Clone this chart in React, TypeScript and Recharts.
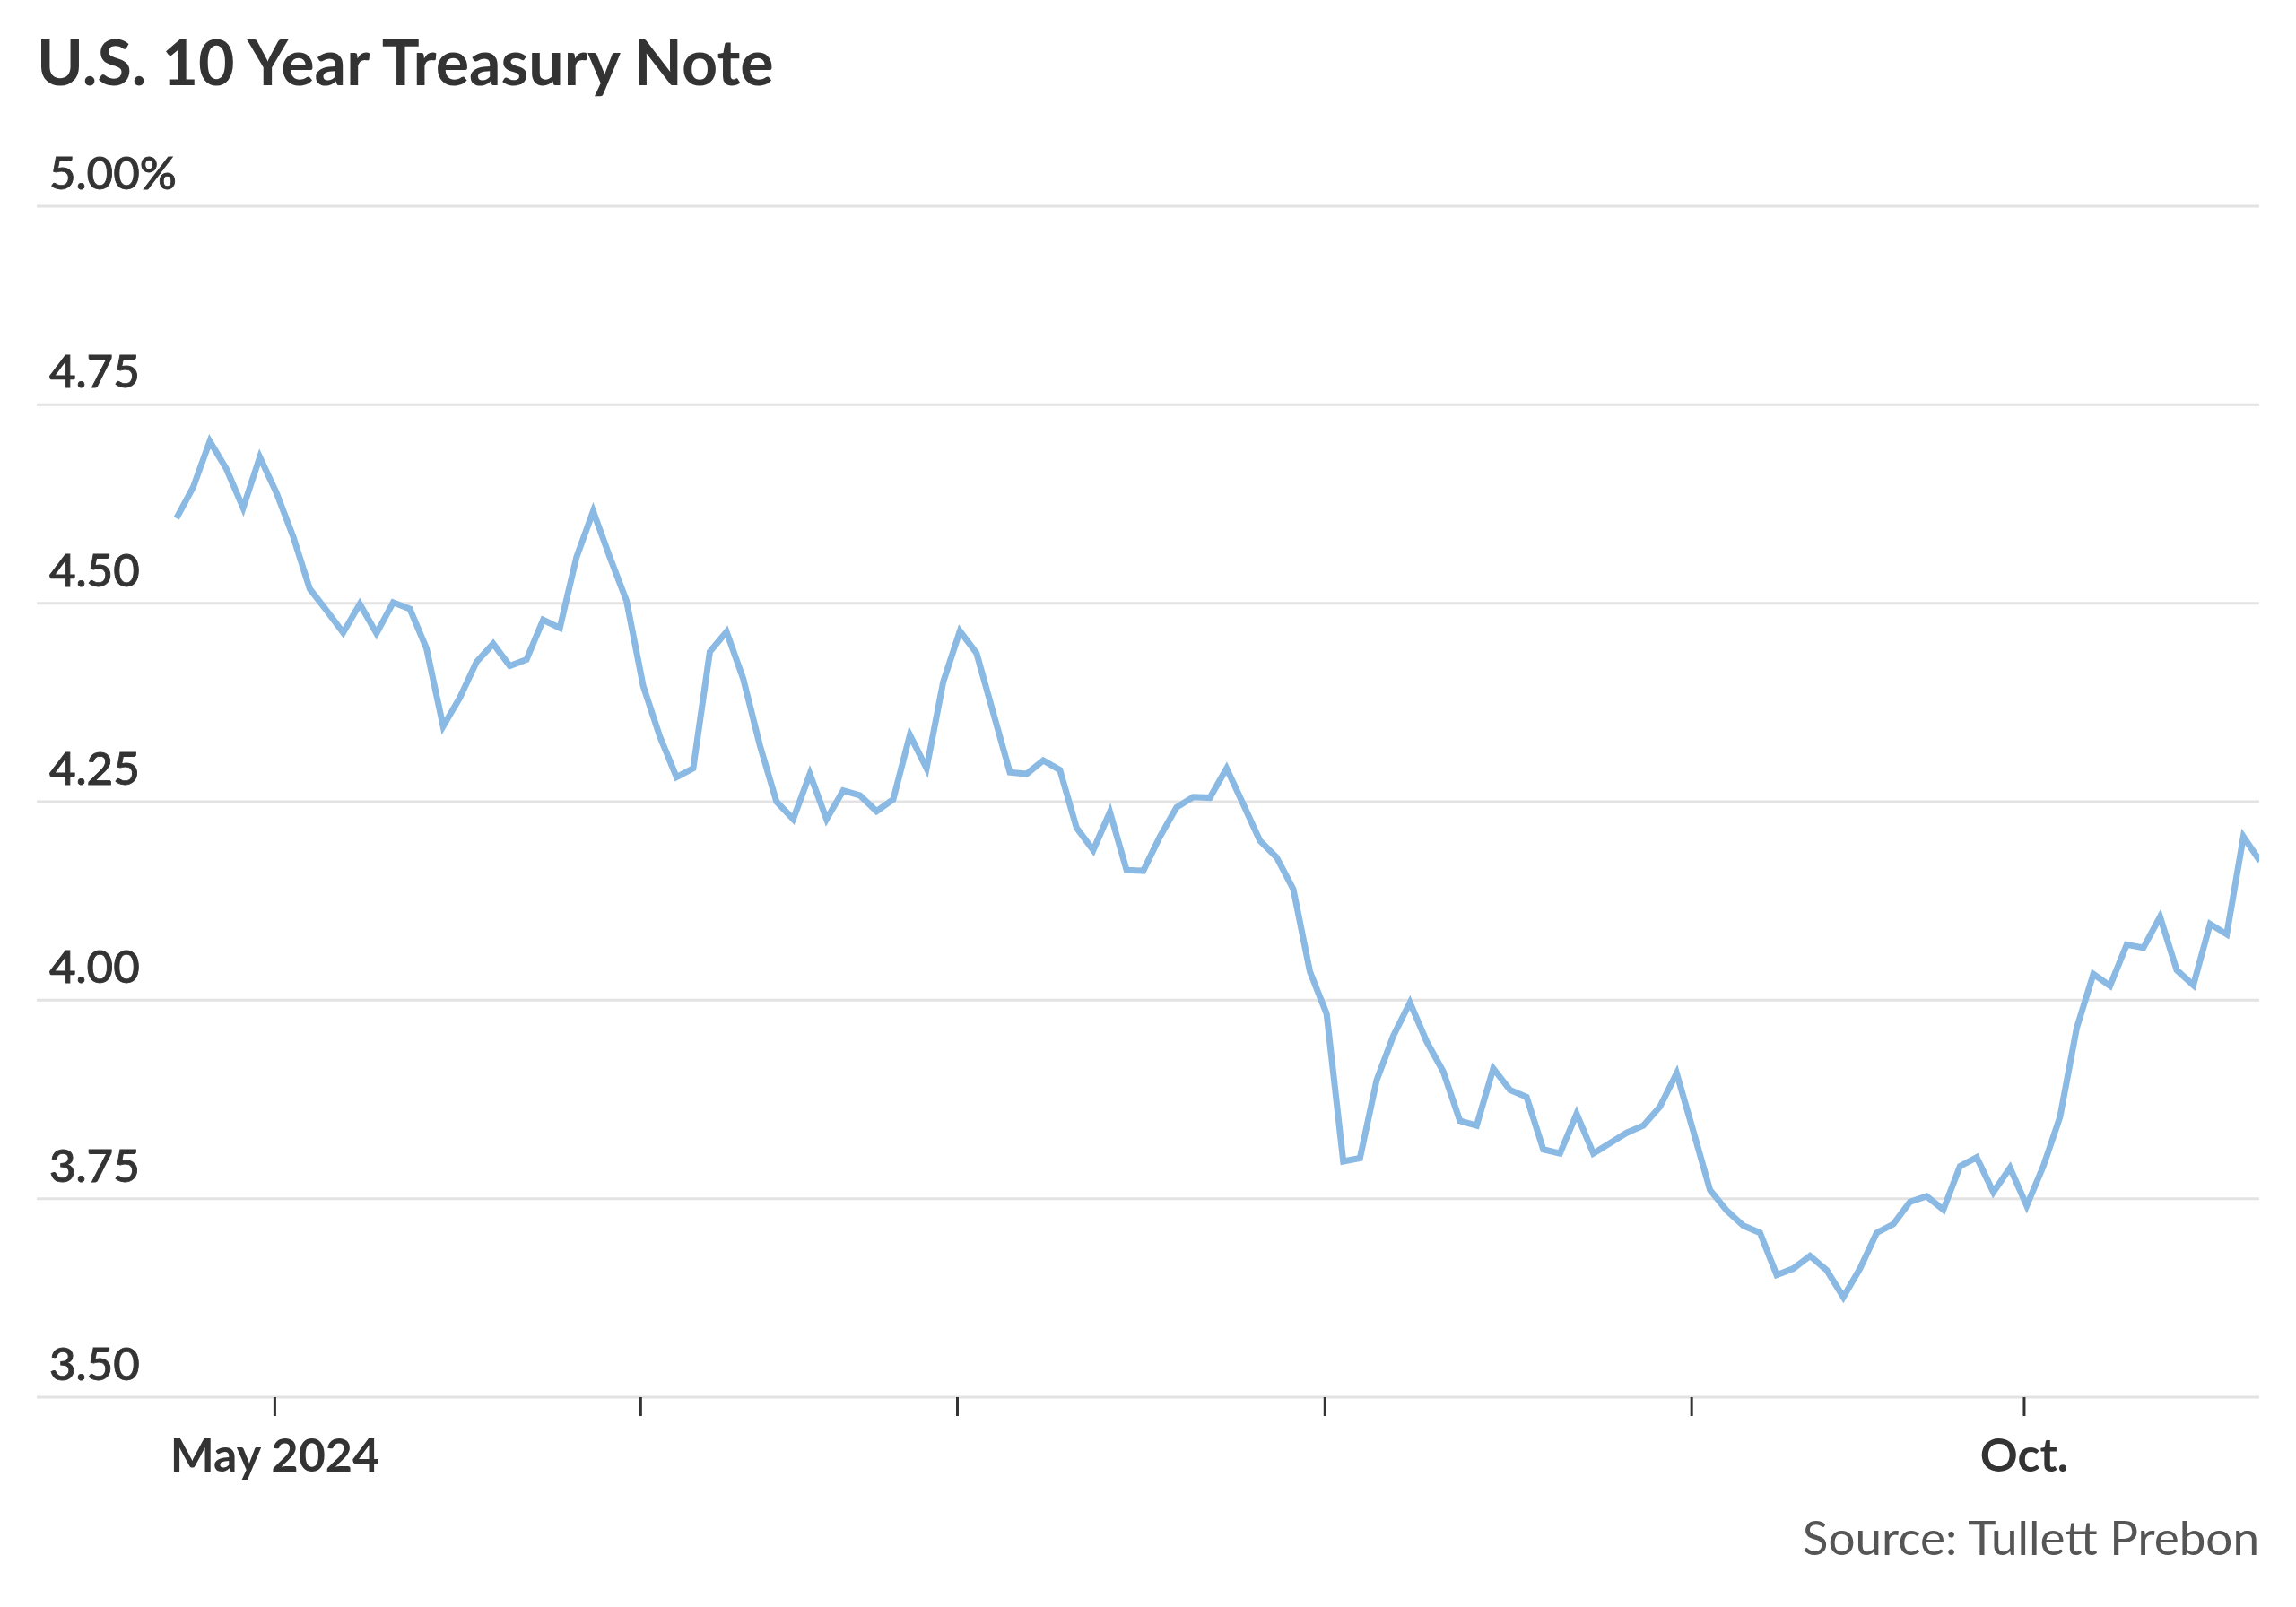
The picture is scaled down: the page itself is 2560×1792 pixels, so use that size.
import React from "react";
import { LineChart, Line, XAxis, YAxis, CartesianGrid } from "recharts";

const title = "U.S. 10 Year Treasury Note";
const source = "Source: Tullett Prebon";

// Daily 10-year yield (%), trading days from late April to late October 2024
const yields = [
  4.607, 4.646, 4.704, 4.669, 4.620, 4.684, 4.639, 4.584, 4.518, 4.491,
  4.463, 4.499, 4.462, 4.501, 4.493, 4.443, 4.345, 4.381, 4.426, 4.449,
  4.421, 4.429, 4.479, 4.469, 4.558, 4.616, 4.558, 4.503, 4.396, 4.332,
  4.281, 4.292, 4.439, 4.464, 4.405, 4.321, 4.250, 4.228, 4.285, 4.228,
  4.264, 4.258, 4.238, 4.253, 4.334, 4.292, 4.401, 4.465, 4.437, 4.362,
  4.287, 4.285, 4.302, 4.290, 4.217, 4.189, 4.237, 4.164, 4.163, 4.206,
  4.243, 4.256, 4.255, 4.292, 4.247, 4.201, 4.180, 4.140, 4.036, 3.983,
  3.797, 3.801, 3.899, 3.955, 3.997, 3.948, 3.910, 3.848, 3.842, 3.914,
  3.887, 3.878, 3.812, 3.807, 3.857, 3.807, 3.820, 3.833, 3.842, 3.866,
  3.908, 3.835, 3.761, 3.735, 3.716, 3.707, 3.654, 3.662, 3.678, 3.660,
  3.626, 3.662, 3.707, 3.718, 3.746, 3.753, 3.736, 3.791, 3.802, 3.758,
  3.789, 3.741, 3.791, 3.853, 3.965, 4.033, 4.018, 4.070, 4.066, 4.105,
  4.038, 4.019, 4.096, 4.083, 4.206, 4.175,
];

// Month boundary ticks (trading-day index) and their labels
const xTickValues = [5.9, 27.85, 46.85, 68.9, 90.9, 110.85];
const xTickLabels = ["May 2024", "", "", "", "", "Oct."];

const yTickValues = [3.5, 3.75, 4.0, 4.25, 4.5, 4.75, 5.0];
const yTickLabels = ["3.50", "3.75", "4.00", "4.25", "4.50", "4.75", "5.00%"];

const data = yields.map((v, i) => ({ i, v }));

const FONT = "Lato, 'Open Sans', sans-serif";
const PLOT_TOP = 230;
const PLOT_BOTTOM = 1558;
const PLOT_LEFT = 41;
const PLOT_RIGHT = 2519;

const renderXTick = (props: any) => {
  const { x, payload } = props;
  const idx = xTickValues.indexOf(payload.value);
  const label = idx >= 0 ? xTickLabels[idx] : "";
  return (
    <g key={`xt-${payload.value}`}>
      <line x1={x} x2={x} y1={PLOT_BOTTOM} y2={PLOT_BOTTOM + 21} stroke="#333" strokeWidth={3} />
      {label ? (
        <text x={x} y={PLOT_BOTTOM + 83} textAnchor="middle" fontFamily={FONT} fontWeight={700} fontSize={52} fill="#333">
          {label}
        </text>
      ) : null}
    </g>
  );
};

const renderYTick = (props: any) => {
  const { y, payload } = props;
  const idx = yTickValues.indexOf(payload.value);
  const label = idx >= 0 ? yTickLabels[idx] : "";
  return (
    <text
      key={`yt-${payload.value}`}
      x={55}
      y={y - 19}
      textAnchor="start"
      fontFamily={FONT}
      fontWeight={500}
      fontSize={51}
      fill="#333"
      stroke="#333"
      strokeWidth={0.9}
    >
      {label}
    </text>
  );
};

export default function App() {
  return (
    <div style={{ position: "absolute", left: 0, top: 0, width: 2560, height: 1792, background: "#fff" }}>
      <LineChart
        width={2560}
        height={1792}
        data={data}
        margin={{ top: PLOT_TOP, right: 2560 - PLOT_RIGHT, bottom: 1792 - PLOT_BOTTOM - 20, left: PLOT_LEFT - 20 }}
      >
        <CartesianGrid vertical={false} stroke="#e3e3e3" strokeWidth={3} />
        <XAxis
          dataKey="i"
          type="number"
          domain={[-8.38, 124.95]}
          allowDataOverflow
          ticks={xTickValues}
          interval={0}
          axisLine={false}
          tickLine={false}
          tick={renderXTick}
          height={20}
        />
        <YAxis
          type="number"
          domain={[3.5, 5.0]}
          ticks={yTickValues}
          interval={0}
          axisLine={false}
          tickLine={false}
          tick={renderYTick}
          width={20}
        />
        <Line
          type="linear"
          dataKey="v"
          stroke="#8ab9e3"
          strokeWidth={7}
          dot={false}
          isAnimationActive={false}
        />
      </LineChart>
      <svg
        width={2560}
        height={1792}
        style={{ position: "absolute", left: 0, top: 0, pointerEvents: "none" }}
      >
        <text x={41} y={95} fontFamily={FONT} fontWeight={700} fontSize={70} fill="#333">
          {title}
        </text>
        <text x={2519} y={1734} textAnchor="end" fontFamily={FONT} fontWeight={400} fontSize={53} fill="#555">
          {source}
        </text>
      </svg>
    </div>
  );
}
